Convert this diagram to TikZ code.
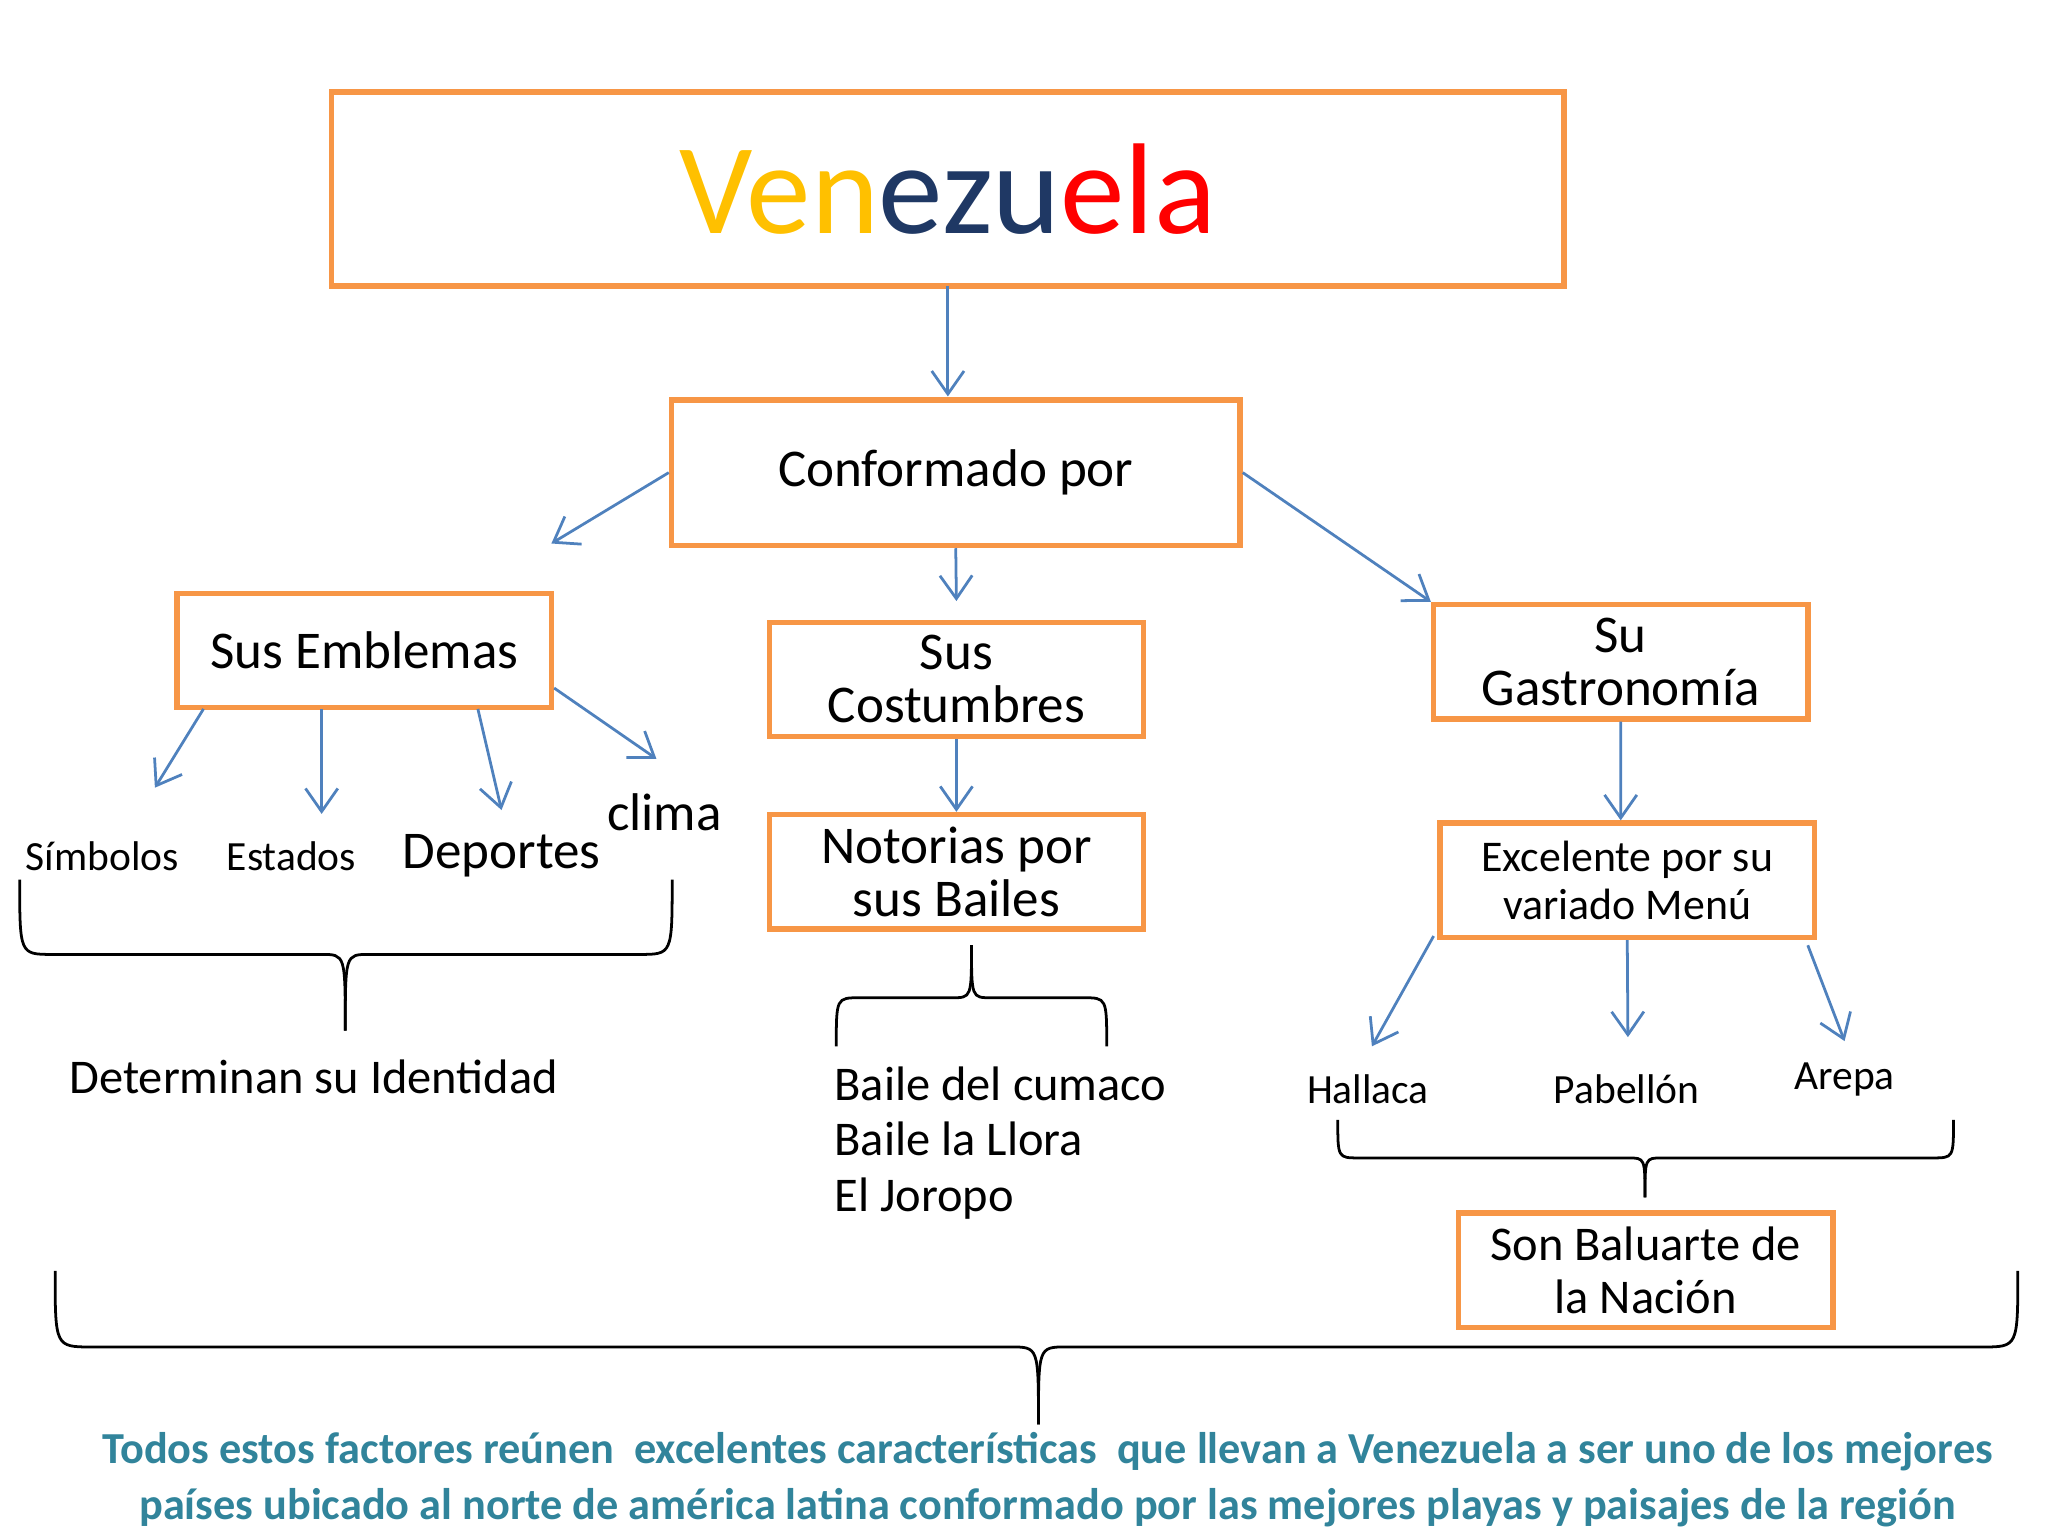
\documentclass[tikz,border=0pt]{standalone}
\usepackage{fontspec}
\setmainfont{Carlito}
\usetikzlibrary{arrows.meta,positioning}
\definecolor{boxorange}{HTML}{F79646}
\definecolor{arrowblue}{HTML}{4F81BD}
\definecolor{teal}{HTML}{31849B}
\definecolor{vyellow}{HTML}{FFC000}
\definecolor{vblue}{HTML}{1F3864}
\definecolor{vred}{HTML}{FF0000}
\tikzset{
  caja/.style={draw=boxorange, line width=1.2pt, minimum width=2.85cm, minimum height=0.87cm, align=center, inner sep=1pt},
  flecha/.style={arrowblue, line width=0.6pt, -{Straight Barb[length=5pt,width=7pt]}},
  llave/.style={line width=0.6pt}
}
\begin{document}
\begin{tikzpicture}
  \useasboundingbox (0,0) rectangle (15.6,-11.7);

  % cajas
  \node[caja, minimum width=9.39cm, minimum height=1.48cm, font=\fontsize{28}{30}\selectfont] (venezuela) at (7.22,-1.44)
    {\textcolor{vyellow}{Ven}\textcolor{vblue}{ezu}\textcolor{vred}{ela}};
  \node[caja, minimum width=4.33cm, minimum height=1.11cm, font=\fontsize{11.5}{13}\selectfont] (conformado) at (7.28,-3.60) {Conformado por};
  \node[caja, font=\fontsize{11.5}{13}\selectfont] (emblemas) at (2.775,-4.955) {Sus Emblemas};
  \node[caja, font=\fontsize{11.5}{11.5}\selectfont] (costumbres) at (7.285,-5.175) {Sus\\Costumbres};
  \node[caja, font=\fontsize{11.5}{11.5}\selectfont] (gastronomia) at (12.345,-5.04) {Su\\Gastronomía};
  \node[caja, font=\fontsize{11.5}{11.5}\selectfont] (notorias) at (7.285,-6.64) {Notorias por\\sus Bailes};
  \node[caja, font=\fontsize{9.5}{10.5}\selectfont] (excelente) at (12.395,-6.705) {Excelente por su\\variado Menú};
  \node[caja, font=\fontsize{10.5}{11.5}\selectfont] (baluarte) at (12.535,-9.675) {Son Baluarte de\\la Nación};

  % textos
  \node[font=\fontsize{9}{11}\selectfont] (simbolos) at (0.78,-6.52) {Símbolos};
  \node[font=\fontsize{9}{11}\selectfont] (estados) at (2.22,-6.52) {Estados};
  \node[font=\fontsize{11.5}{13}\selectfont] (deportes) at (3.82,-6.52) {Deportes};
  \node[font=\fontsize{11.5}{13}\selectfont] (clima) at (5.06,-6.19) {clima};
  \node[font=\fontsize{10.5}{12}\selectfont] (identidad) at (2.39,-8.20) {Determinan su Identidad};
  \node[font=\fontsize{10.5}{12}\selectfont, align=left, anchor=north west, inner sep=0pt] (bailes) at (6.35,-8.12)
    {Baile del cumaco\\Baile la Llora\\El Joropo};
  \node[font=\fontsize{9}{11}\selectfont] (hallaca) at (10.42,-8.30) {Hallaca};
  \node[font=\fontsize{9}{11}\selectfont] (pabellon) at (12.39,-8.30) {Pabellón};
  \node[font=\fontsize{9}{11}\selectfont] (arepa) at (14.05,-8.22) {Arepa};
  \node[font=\bfseries\fontsize{9.6}{12}\selectfont, text=teal, align=center] (factores) at (7.98,-11.27)
    {Todos estos factores reúnen \ excelentes características \ que llevan a Venezuela a ser uno de los mejores\\
     países ubicado al norte de américa latina conformado por las mejores playas y paisajes de la región};

  % flechas
  \coordinate (c1) at (4.20,-4.14);
  \draw[flecha] (7.22,-2.18) -- (7.22,-3.02);
  \draw[flecha] (conformado.west) -- (c1);
  \draw[flecha] (conformado.east) -- (gastronomia.north west);
  \draw[flecha] (conformado.south) -- ([yshift=4pt]costumbres.north);
  \draw[flecha] (1.55,-5.40) -- (1.18,-6.00);
  \draw[flecha] (2.45,-5.40) -- (2.45,-6.20);
  \draw[flecha] (3.64,-5.40) -- (3.82,-6.17);
  \draw[flecha] (emblemas.south east) ++(0,0.17) -- (5.00,-5.78);
  \draw[flecha] (costumbres.south) -- (notorias.north);
  \draw[flecha] (gastronomia.south) -- ([xshift=-0.05cm]excelente.north);
  \draw[flecha] (10.92,-7.13) -- (10.45,-7.97);
  \draw[flecha] (excelente.south) -- (12.40,-7.90);
  \draw[flecha] (13.77,-7.20) -- (14.05,-7.93);

  % llaves
  \draw[llave] (0.15,-6.70) .. controls (0.15,-7.27) .. (0.40,-7.27) -- (2.45,-7.27)
    .. controls (2.63,-7.27) .. (2.63,-7.85);
  \draw[llave] (5.12,-6.70) .. controls (5.12,-7.27) .. (4.87,-7.27) -- (2.81,-7.27)
    .. controls (2.63,-7.27) .. (2.63,-7.85);
  \draw[llave] (6.37,-7.97) .. controls (6.37,-7.60) .. (6.55,-7.60) -- (7.25,-7.60)
    .. controls (7.40,-7.60) .. (7.40,-7.20);
  \draw[llave] (8.43,-7.97) .. controls (8.43,-7.60) .. (8.25,-7.60) -- (7.55,-7.60)
    .. controls (7.40,-7.60) .. (7.40,-7.20);
  \draw[llave] (10.19,-8.53) .. controls (10.19,-8.82) .. (10.35,-8.82) -- (12.40,-8.82)
    .. controls (12.53,-8.82) .. (12.53,-9.12);
  \draw[llave] (14.88,-8.53) .. controls (14.88,-8.82) .. (14.72,-8.82) -- (12.66,-8.82)
    .. controls (12.53,-8.82) .. (12.53,-9.12);
  \draw[llave] (0.42,-9.68) .. controls (0.42,-10.26) .. (0.70,-10.26) -- (7.70,-10.26)
    .. controls (7.91,-10.26) .. (7.91,-10.85);
  \draw[llave] (15.37,-9.68) .. controls (15.37,-10.26) .. (15.10,-10.26) -- (8.12,-10.26)
    .. controls (7.91,-10.26) .. (7.91,-10.85);
\end{tikzpicture}
\end{document}
